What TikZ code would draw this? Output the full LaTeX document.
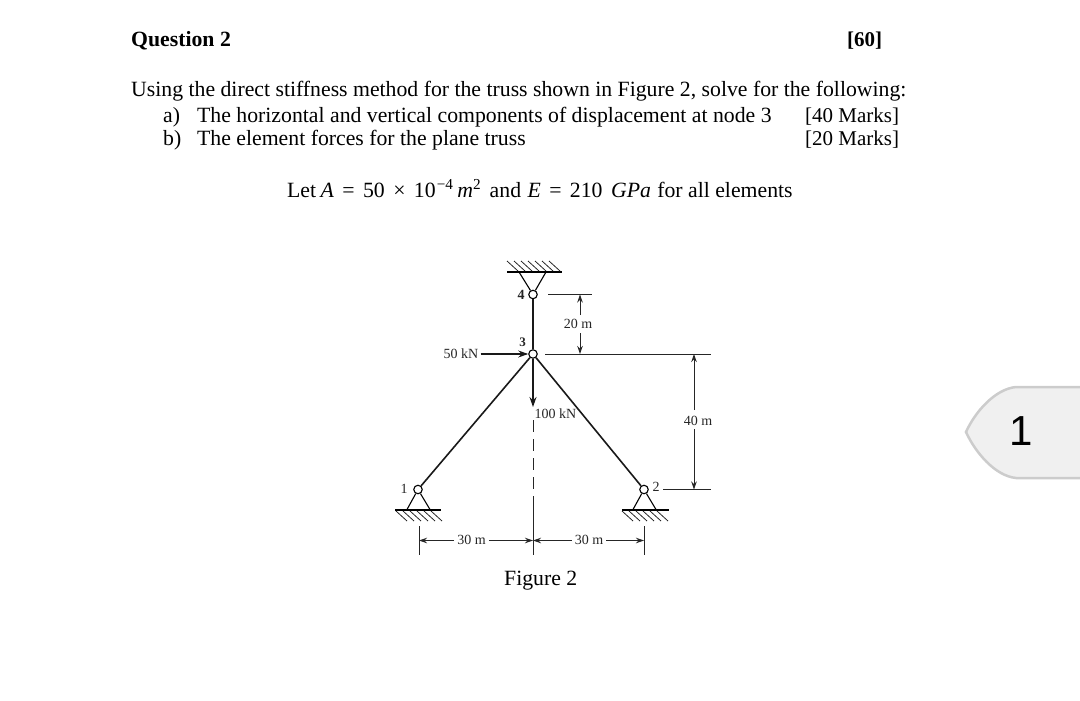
\documentclass[tikz,border=0pt]{standalone}
\usepackage{fontspec}
\setmainfont{Liberation Serif}
\newfontfamily\tabfont{Liberation Sans}
\usetikzlibrary{arrows.meta}
\tikzset{
  txt/.style={anchor=base west,inner sep=0pt,font=\fontsize{21.75}{25}\selectfont},
  mrk/.style={anchor=base west,inner sep=0pt,font=\fontsize{21}{25}\selectfont},
  lbl/.style={inner sep=0pt,font=\fontsize{14}{15}\selectfont,text=black!85},
  joint/.style={circle,draw,fill=white,line width=1.1pt,inner sep=0pt,minimum size=8.5pt},
  member/.style={line width=1.6pt,black!90},
  dimline/.style={line width=1pt,black!85},
  dimarrow/.style={dimline,-{Stealth[length=8pt,width=5.5pt]}},
  loadarrow/.style={line width=1.3pt,black!90,-{Stealth[length=10pt,width=7pt]}}
}
\newcommand{\hatchrow}[3]{%
  \foreach \hx in {0,7,...,#3}
    \draw [line width=0.8pt,black!85] (#1+\hx,#2) -- ++(11,10);
}
\newcommand{\gp}{\hspace{3pt}}
\begin{document}
\begin{tikzpicture}[x=1pt,y=-1pt]
  \useasboundingbox (0,0) rectangle (1080,701);
  % question text
  \node at (131,46.5) [txt,font=\fontsize{21.75}{25}\selectfont\bfseries] (qhead) {Question 2};
  \node at (847,46.5) [mrk,font=\fontsize{21}{25}\selectfont\bfseries] (qtotal) {[60]};
  \node at (131,96) [txt] (qintro) {Using the direct stiffness method for the truss shown in Figure 2, solve for the following:};
  \node at (163,122) [txt] (parta) {a)};
  \node at (197,122) [txt] (partatxt) {The horizontal and vertical components of displacement at node 3};
  \node at (805,122) [mrk] (partamark) {[40 Marks]};
  \node at (163,146) [txt] (partb) {b)};
  \node at (197,146) [txt] (partbtxt) {The element forces for the plane truss};
  \node at (805,146) [mrk] (partbmark) {[20 Marks]};
  \node at (287,197) [txt] (given) {Let\hspace{-1pt} \textit{A}\gp{} =\gp{} 50\gp{} ×\gp{} 10\textsuperscript{\hspace{1pt}−4\hspace{1pt}}\hspace{3pt}\textit{m}\textsuperscript{2}\gp{} and\hspace{1pt} \textit{E}\gp{} =\gp{} 210\gp{} \textit{GPa}\hspace{1pt} for all elements};
  \node at (504,585) [txt] (figcap) {Figure 2};
  % supports
  \coordinate (topl) at (519,272);
  \coordinate (topr) at (546,272);
  \coordinate (leftl) at (407,509.5);
  \coordinate (leftr) at (430,509.5);
  \coordinate (rightl) at (633,509.5);
  \coordinate (rightr) at (656,509.5);
  \node at (533,294.5) [joint] (n4) {};
  \node at (533,354) [joint] (n3) {};
  \node at (418,489.5) [joint] (n1) {};
  \node at (644,489.5) [joint] (n2) {};
  \draw [line width=1.1pt] (topl) -- (n4) -- (topr);
  \draw [line width=1.1pt] (leftl) -- (n1) -- (leftr);
  \draw [line width=1.1pt] (rightl) -- (n2) -- (rightr);
  \draw [line width=1.7pt] (507,272) -- (562,272);
  \draw [line width=1.7pt] (395,510) -- (441,510);
  \draw [line width=1.7pt] (622,510) -- (669,510);
  \hatchrow{507}{261}{44}
  \hatchrow{396}{511}{35}
  \hatchrow{622}{511}{35}
  % members
  \draw [member] (n4) -- (n3);
  \draw [member] (n3) -- (n1);
  \draw [member] (n3) -- (n2);
  % loads
  \node at (461,354) [lbl] (load50) {50 kN};
  \draw [loadarrow,line width=1.1pt] (load50.east) ++(2,0) -- (n3);
  \node at (555.5,414) [lbl] (load100) {100 kN};
  \coordinate (tip100) at (533,407);
  \draw [loadarrow] (n3) -- (tip100);
  % node numbers
  \node at (521,295) [lbl,font=\fontsize{14}{15}\selectfont\bfseries] (num4) {4};
  \node at (522.5,342.5) [lbl,font=\fontsize{13}{15}\selectfont\bfseries] (num3) {3};
  \node at (404,488.5) [lbl] (num1) {1};
  \node at (656,487) [lbl] (num2) {2};
  % dimensions
  \coordinate (d4l) at (548,294.5);
  \coordinate (d4r) at (592,294.5);
  \coordinate (d3l) at (545,354);
  \coordinate (d3r) at (711,354);
  \coordinate (d2l) at (663,489.5);
  \coordinate (d2r) at (711,489.5);
  \draw [dimline] (d4l) -- (d4r);
  \draw [dimline] (d3l) -- (d3r);
  \draw [dimline] (d2l) -- (d2r);
  \node at (578,323.5) [lbl] (dim20) {20 m};
  \draw [dimarrow] (580,315) -- (580,294.5);
  \draw [dimarrow] (580,333) -- (580,354);
  \node at (698,421) [lbl] (dim40) {40 m};
  \draw [dimarrow] (694,410) -- (694,354);
  \draw [dimarrow] (694,429) -- (694,489.5);
  \draw [dimline,dash pattern=on 12pt off 7pt] (533,420) -- (533,505);
  \draw [dimline] (533,505) -- (533,555);
  \draw [dimline] (419,526) -- (419,555);
  \draw [dimline] (644,526) -- (644,555);
  \node at (471.5,540) [lbl] (dim30l) {30 m};
  \node at (589,540) [lbl] (dim30r) {30 m};
  \draw [dimarrow] (dim30l.west) ++(-3,0.5) -- (419,540.5);
  \draw [dimarrow] (dim30l.east) ++(3,0.5) -- (533,540.5);
  \draw [dimarrow] (dim30r.west) ++(-3,0.5) -- (533,540.5);
  \draw [dimarrow] (dim30r.east) ++(3,0.5) -- (644,540.5);
  % page tab
  \draw [fill=black!6,draw=black!20,line width=2.5pt]
    (1082,387) -- (1016,387) .. controls (995,389) and (975,412) .. (966,432)
    .. controls (975,452) and (995,476) .. (1016,478) -- (1082,478);
  \node at (1021,431) [inner sep=0pt,font=\tabfont\fontsize{42}{48}\selectfont] (tabnum) {1};
\end{tikzpicture}
\end{document}
